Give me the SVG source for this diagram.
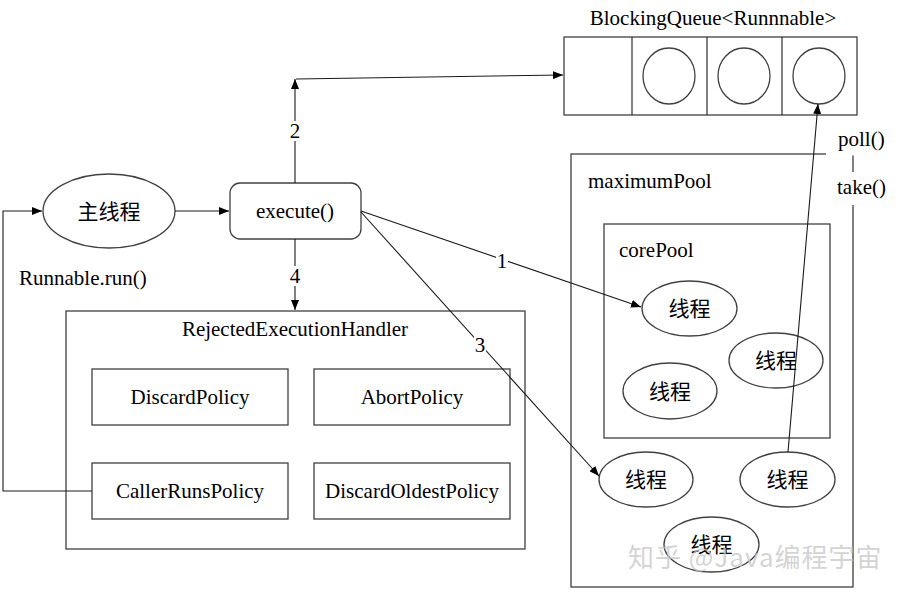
<svg xmlns="http://www.w3.org/2000/svg" width="904" height="595" viewBox="0 0 904 595">
<defs>
<marker id="arr" markerWidth="10" markerHeight="8" refX="10" refY="4" orient="auto" markerUnits="userSpaceOnUse">
<path d="M0,0 L10,4 L0,8 Z" fill="#000"/>
</marker>
<style>
.box{fill:#fff;stroke:#404040;stroke-width:1.3}
.ln{fill:none;stroke:#1a1a1a;stroke-width:1.1}
.t{font-family:"Liberation Serif","Times New Roman",serif;font-size:21px;fill:#000}
.c{font-family:"Noto Sans CJK SC","Noto Sans",sans-serif;font-size:21px;fill:#000}
.m{text-anchor:middle}
.bg{fill:#fff;stroke:none}
</style>
</defs>
<rect width="904" height="595" fill="#fff"/>

<g id="queue">
<text class="t m" x="713" y="25">BlockingQueue&lt;Runnnable&gt;</text>
<rect class="box" x="564" y="37" width="293" height="78"/>
<line class="ln" x1="632" y1="37" x2="632" y2="115"/>
<line class="ln" x1="707" y1="37" x2="707" y2="115"/>
<line class="ln" x1="782" y1="37" x2="782" y2="115"/>
<ellipse class="box" cx="669" cy="76" rx="26" ry="28"/>
<ellipse class="box" cx="744" cy="76" rx="26" ry="28"/>
<ellipse class="box" cx="819" cy="76" rx="26" ry="28"/>
</g>

<g id="maximumPool">
<rect class="box" x="571" y="154" width="282" height="433"/>
<text class="t" x="588" y="188">maximumPool</text>
</g>

<g id="corePool">
<rect class="box" x="604" y="224" width="226" height="214"/>
<text class="t" x="619" y="257">corePool</text>
</g>

<g id="pollTake">
<rect class="bg" x="826" y="127" width="68" height="28.5"/>
<text class="t" x="838" y="146">poll()</text>
<rect class="bg" x="826" y="172" width="68" height="33"/>
<text class="t" x="837" y="194">take()</text>
</g>

<g id="main">
<ellipse class="box" cx="109" cy="211" rx="66" ry="37"/>
<text class="c m" x="109" y="219">主线程</text>
</g>

<g id="execute">
<rect class="box" x="230" y="183" width="131" height="56" rx="10"/>
<text class="t m" x="295" y="218">execute()</text>
</g>

<g id="runLabel">
<text class="t" x="19" y="285">Runnable.run()</text>
</g>

<g id="handler">
<rect class="box" x="66" y="311" width="459" height="238"/>
<text class="t m" x="295" y="336">RejectedExecutionHandler</text>
</g>
<g id="discard">
<rect class="box" x="92" y="369" width="196" height="56"/>
<text class="t m" x="190" y="404">DiscardPolicy</text>
</g>
<g id="abort">
<rect class="box" x="314" y="369" width="196" height="56"/>
<text class="t m" x="412" y="404">AbortPolicy</text>
</g>
<g id="callerRuns">
<rect class="box" x="92" y="463" width="196" height="56"/>
<text class="t m" x="190" y="498">CallerRunsPolicy</text>
</g>
<g id="discardOldest">
<rect class="box" x="314" y="463" width="196" height="56"/>
<text class="t m" x="412" y="498">DiscardOldestPolicy</text>
</g>

<g id="t1"><ellipse class="box" cx="689.5" cy="308.5" rx="47.5" ry="27.5"/><text class="c m" x="689.5" y="316">线程</text></g>
<g id="t2"><ellipse class="box" cx="776" cy="360.5" rx="47" ry="27.5"/><text class="c m" x="776" y="368">线程</text></g>
<g id="t3"><ellipse class="box" cx="670" cy="391" rx="47" ry="28"/><text class="c m" x="670" y="398.5">线程</text></g>
<g id="t4"><ellipse class="box" cx="646" cy="479.5" rx="47" ry="27.5"/><text class="c m" x="646" y="487">线程</text></g>
<g id="t5"><ellipse class="box" cx="787.5" cy="479.5" rx="47.5" ry="27.5"/><text class="c m" x="787.5" y="487">线程</text></g>

<g id="connectors">
<line class="ln" x1="175" y1="211" x2="229" y2="211" marker-end="url(#arr)"/>
<line class="ln" x1="295" y1="183" x2="295" y2="79" marker-end="url(#arr)"/>
<line class="ln" x1="296" y1="79" x2="563" y2="75" marker-end="url(#arr)"/>
<line class="ln" x1="295" y1="239" x2="295" y2="310" marker-end="url(#arr)"/>
<line class="ln" x1="361" y1="211" x2="641" y2="307" marker-end="url(#arr)"/>
<line class="ln" x1="361" y1="212" x2="599" y2="476" marker-end="url(#arr)"/>
<line class="ln" x1="788" y1="452" x2="818" y2="104" marker-end="url(#arr)"/>
<path class="ln" d="M92,491 H3 V211 H42" marker-end="url(#arr)"/>
<rect class="bg" x="287" y="121" width="16" height="20"/>
<text class="t m" x="295" y="138">2</text>
<rect class="bg" x="287" y="266" width="16" height="20"/>
<text class="t m" x="295" y="283">4</text>
<rect class="bg" x="496" y="252" width="12" height="18"/>
<text class="t m" x="502" y="268">1</text>
<rect class="bg" x="474" y="336" width="12" height="18"/>
<text class="t m" x="480" y="352">3</text>
</g>

<g id="t6"><ellipse class="box" cx="711.5" cy="544.5" rx="47.5" ry="27.5"/><text class="c m" x="711.5" y="552">线程</text></g>

<g id="watermark">
<text x="628" y="567" font-family="Noto Sans CJK SC, Noto Sans, sans-serif" font-size="26" letter-spacing="1" fill="#c8c8c8" fill-opacity="0.8">知乎 @Java编程宇宙</text>
</g>
</svg>
